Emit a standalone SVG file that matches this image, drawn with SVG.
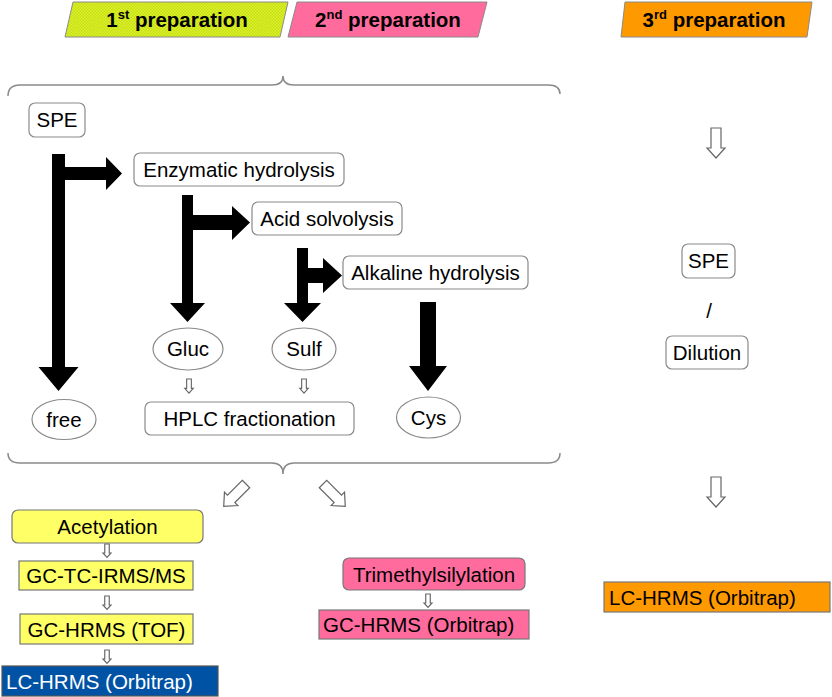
<svg xmlns="http://www.w3.org/2000/svg" xmlns:xlink="http://www.w3.org/1999/xlink" width="832" height="697" viewBox="0 0 832 697">
<defs>
<pattern id="dots" width="3" height="3" patternUnits="userSpaceOnUse">
<rect width="3" height="3" fill="#dcf22a"/>
<rect width="1.5" height="1.5" fill="#c6dc14"/>
<rect x="1.5" y="1.5" width="1.5" height="1.5" fill="#c6dc14"/>
</pattern>
<path id="harrow" d="M-5,0 H5 V20 H9 L0,30 L-9,20 H-5 Z"/>
</defs>
<style>
text{font-family:"Liberation Sans",Arial,sans-serif;font-size:20.5px;fill:#000}
.hdr{font-weight:bold;text-anchor:middle}
.sup{font-size:13px}
.c{text-anchor:middle}
.hdrshape{stroke:#8a8a8a;stroke-width:1}
.box{fill:#fff;stroke:#8a8a8a;stroke-width:1.2}
.ylw{fill:#ffff66;stroke:#777;stroke-width:1.2}
.pnk{fill:#ff6b9d;stroke:#777;stroke-width:1.2}
.org{fill:#ff9900;stroke:#777;stroke-width:1.2}
.blu{fill:#0052a5;stroke:#555;stroke-width:1.2}
.brace{fill:none;stroke:#8a8a8a;stroke-width:1.5}
.black{fill:#000}
.hollow{fill:#fff;stroke:#666;stroke-width:1.2}
</style>

<g id="header-1">
<polygon class="hdrshape" points="73,2 288,2 280,37 65,37" fill="url(#dots)"/>
<text class="hdr" x="177" y="27">1<tspan class="sup" dy="-8">st</tspan><tspan dy="8"> preparation</tspan></text>
</g>
<g id="header-2">
<polygon class="hdrshape" points="297,2 487,2 478,37 288,37" fill="#ff6b9d"/>
<text class="hdr" x="388" y="27">2<tspan class="sup" dy="-8">nd</tspan><tspan dy="8"> preparation</tspan></text>
</g>
<g id="header-3">
<polygon class="hdrshape" points="625,2 812,2 807,37 621,37" fill="#ff9900"/>
<text class="hdr" x="714" y="27">3<tspan class="sup" dy="-8">rd</tspan><tspan dy="8"> preparation</tspan></text>
</g>

<g id="braces">
<path class="brace" d="M8,96 Q8,85 20,85 L272,85 Q283,85 283,76 Q283,85 294,85 L548,85 Q560,85 560,94"/>
<path class="brace" d="M8,453 Q8,463 20,463 L272,463 Q283,463 283,474 Q283,463 294,463 L548,463 Q560,463 560,453"/>
</g>

<g id="spe">
<rect class="box" x="29" y="103" width="56" height="34" rx="6"/>
<text class="c" x="57" y="127">SPE</text>
</g>
<g id="enzymatic">
<rect class="box" x="134" y="153" width="210" height="33" rx="6"/>
<text class="c" x="239" y="177">Enzymatic hydrolysis</text>
</g>
<g id="acid">
<rect class="box" x="252" y="202" width="150" height="33" rx="6"/>
<text class="c" x="327" y="226">Acid solvolysis</text>
</g>
<g id="alkaline">
<rect class="box" x="343" y="256" width="185" height="33" rx="6"/>
<text class="c" x="435.5" y="280">Alkaline hydrolysis</text>
</g>
<g id="gluc">
<ellipse class="box" cx="188" cy="349" rx="35" ry="21"/>
<text class="c" x="188" y="356">Gluc</text>
</g>
<g id="sulf">
<ellipse class="box" cx="304" cy="349" rx="32" ry="21"/>
<text class="c" x="304" y="356">Sulf</text>
</g>
<g id="free">
<ellipse class="box" cx="64" cy="419.5" rx="32" ry="20"/>
<text class="c" x="64" y="427">free</text>
</g>
<g id="cys">
<ellipse class="box" cx="428.5" cy="417.5" rx="32" ry="20.5"/>
<text class="c" x="428.5" y="425">Cys</text>
</g>
<g id="hplc">
<rect class="box" x="145" y="402" width="209" height="33" rx="6"/>
<text class="c" x="249.5" y="426">HPLC fractionation</text>
</g>

<g id="acetylation">
<rect class="ylw" x="12" y="510" width="191" height="33" rx="6"/>
<text class="c" x="107.5" y="534">Acetylation</text>
</g>
<g id="gc-tc-irms">
<rect class="ylw" x="19" y="561" width="174" height="29"/>
<text class="c" x="106" y="583">GC-TC-IRMS/MS</text>
</g>
<g id="gc-hrms-tof">
<rect class="ylw" x="20" y="614" width="173" height="30"/>
<text class="c" x="106.5" y="637">GC-HRMS (TOF)</text>
</g>
<g id="lc-hrms-1">
<rect class="blu" x="2" y="666" width="216" height="30"/>
<text x="6" y="689" style="fill:#fff">LC-HRMS (Orbitrap)</text>
</g>
<g id="trimethylsilylation">
<rect class="pnk" x="343" y="558" width="182" height="32" rx="6"/>
<text class="c" x="434" y="582">Trimethylsilylation</text>
</g>
<g id="gc-hrms-orbitrap">
<rect class="pnk" x="319" y="610" width="210" height="29"/>
<text x="323" y="632">GC-HRMS (Orbitrap)</text>
</g>

<g id="spe-3">
<rect class="box" x="682" y="244" width="53" height="34" rx="6"/>
<text class="c" x="708.5" y="268">SPE</text>
</g>
<g id="slash">
<text class="c" x="709" y="318">/</text>
</g>
<g id="dilution">
<rect class="box" x="666" y="336" width="82" height="33" rx="6"/>
<text class="c" x="707" y="360">Dilution</text>
</g>
<g id="lc-hrms-3">
<rect class="org" x="604" y="582" width="226" height="30"/>
<text x="609" y="605">LC-HRMS (Orbitrap)</text>
</g>

<g id="connectors">
<path class="black" d="M52,154 H65 V167 H106 V157 L122,173.5 L106,190 V180 H65 V367 H78.5 L58.5,391 L38.5,367 H52 Z"/>
<path class="black" d="M182,195 H193 V215 H232 V206 L250,222.5 L232,240 V230 H193 V303 H205 L187.5,322 L170,303 H182 Z"/>
<path class="black" d="M297,248 H308 V268 H323 V258 L342,275.5 L323,293 V283 H308 V303 H321 L302.5,322 L284,303 H297 Z"/>
<path class="black" d="M420,302 H436 V366 H447 L428,391 L409,366 H420 Z"/>
<g class="hollow">
<use xlink:href="#harrow" href="#harrow" transform="translate(189,379) scale(0.47)" style="stroke-width:2.4"/>
<use xlink:href="#harrow" href="#harrow" transform="translate(304,379) scale(0.47)" style="stroke-width:2.4"/>
<use xlink:href="#harrow" href="#harrow" transform="translate(246,484) rotate(45) scale(1.05)" style="stroke-width:1.15"/>
<use xlink:href="#harrow" href="#harrow" transform="translate(323,484) rotate(-45) scale(1.05)" style="stroke-width:1.15"/>
<use xlink:href="#harrow" href="#harrow" transform="translate(107,544) scale(0.45)" style="stroke-width:2.6"/>
<use xlink:href="#harrow" href="#harrow" transform="translate(107,596) scale(0.45)" style="stroke-width:2.6"/>
<use xlink:href="#harrow" href="#harrow" transform="translate(107,650) scale(0.45)" style="stroke-width:2.6"/>
<use xlink:href="#harrow" href="#harrow" transform="translate(428,594) scale(0.45)" style="stroke-width:2.6"/>
<use xlink:href="#harrow" href="#harrow" transform="translate(716,128)" style="stroke-width:1.2"/>
<use xlink:href="#harrow" href="#harrow" transform="translate(716,477)" style="stroke-width:1.2"/>
</g>
</g>
</svg>
